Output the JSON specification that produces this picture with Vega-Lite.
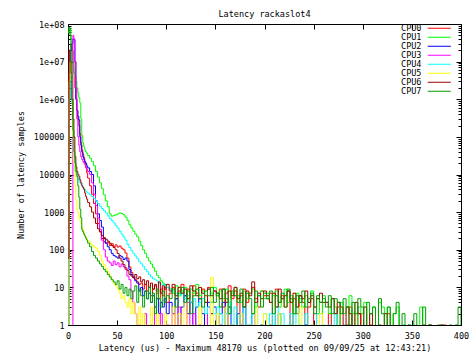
{
"$schema": "https://vega.github.io/schema/vega-lite/v6.json",
"width": 393, "height": 301,
"autosize": {"type": "none"},
"padding": {"left": 68, "top": 24, "right": 13, "bottom": 30},
"background": "white",
"config": {
 "view": {"stroke": "black", "strokeWidth": 1},
 "font": "DejaVu Sans Mono",
 "axis": {"labelFont": "DejaVu Sans Mono", "titleFont": "DejaVu Sans Mono", "labelFontSize": 8.5, "titleFontSize": 8.5, "titleFontWeight": "normal", "labelColor": "black", "titleColor": "black", "tickColor": "black", "tickWidth": 1, "domain": false, "grid": false, "labelOverlap": false, "labelBound": false, "labelFlush": false}
},
"title": {"text": "Latency rackaslot4", "font": "DejaVu Sans Mono", "fontSize": 8.5, "fontWeight": "normal", "color": "black", "anchor": "middle", "offset": 2},
"data": {"values": [
{"x":0,"CPU0":0.5,"CPU1":6e7,"CPU2":0.5,"CPU3":0.5,"CPU4":0.5,"CPU5":0.5,"CPU6":60,"CPU7":8e7},
{"x":1,"CPU0":5e6,"CPU1":8e7,"CPU2":1e6,"CPU3":0.5,"CPU4":1e6,"CPU5":3e6,"CPU6":2e7,"CPU7":8e7},
{"x":2,"CPU0":2e7,"CPU1":7e7,"CPU2":1e7,"CPU3":0.5,"CPU4":1e7,"CPU5":1e7,"CPU6":1e7,"CPU7":5e7},
{"x":3,"CPU0":3e7,"CPU1":4e7,"CPU2":2e7,"CPU3":0.5,"CPU4":6e6,"CPU5":5e6,"CPU6":5e6,"CPU7":1e7},
{"x":4,"CPU0":2e7,"CPU1":2e7,"CPU2":3e7,"CPU3":0.5,"CPU4":8e5,"CPU5":1e6,"CPU6":1e6,"CPU7":1e6},
{"x":5,"CPU0":1e7,"CPU1":1e7,"CPU2":4e7,"CPU3":5e7,"CPU4":1e5,"CPU5":1e5,"CPU6":3e5,"CPU7":1.5e5},
{"x":6,"CPU0":5e6,"CPU1":6e6,"CPU2":3.8e7,"CPU3":4e7,"CPU4":3e4,"CPU5":2e4,"CPU6":1e5,"CPU7":4e4},
{"x":7,"CPU0":2e6,"CPU1":4e6,"CPU2":1e7,"CPU3":1e7,"CPU4":12000,"CPU5":5000,"CPU6":30000,"CPU7":20000},
{"x":8,"CPU0":1e6,"CPU1":3e6,"CPU2":1e6,"CPU3":2e6,"CPU4":10000,"CPU5":2000,"CPU6":16000,"CPU7":12000},
{"x":9,"CPU0":5e5,"CPU1":2e6,"CPU2":5e5,"CPU3":3e5,"CPU4":9000,"CPU5":1200,"CPU6":12000,"CPU7":8700},
{"x":10,"CPU0":3e5,"CPU1":1.5e6,"CPU2":3.5e5,"CPU3":1e5,"CPU4":8000,"CPU5":900,"CPU6":10000,"CPU7":5000},
{"x":11,"CPU0":2e5,"CPU1":1.1e6,"CPU2":2.8e5,"CPU3":6e4,"CPU4":7000,"CPU5":700,"CPU6":9000,"CPU7":2500},
{"x":12,"CPU0":1.2e5,"CPU1":8e5,"CPU2":1e5,"CPU3":4e4,"CPU4":6000,"CPU5":600,"CPU6":7200,"CPU7":1200},
{"x":13,"CPU0":7e4,"CPU1":3e5,"CPU2":6e4,"CPU3":3e4,"CPU4":5500,"CPU5":500,"CPU6":6000,"CPU7":700},
{"x":14,"CPU0":45000,"CPU1":110000,"CPU2":40000,"CPU3":25000,"CPU4":5000,"CPU5":400,"CPU6":5000,"CPU7":340},
{"x":15,"CPU0":35000,"CPU1":70000,"CPU2":30000,"CPU3":22000,"CPU4":4600,"CPU5":330,"CPU6":4500,"CPU7":300},
{"x":16,"CPU0":28000,"CPU1":55000,"CPU2":25000,"CPU3":20000,"CPU4":4200,"CPU5":280,"CPU6":4000,"CPU7":260},
{"x":17,"CPU0":20000,"CPU1":45000,"CPU2":22000,"CPU3":18000,"CPU4":3900,"CPU5":240,"CPU6":3200,"CPU7":230},
{"x":18,"CPU0":15000,"CPU1":40000,"CPU2":20000,"CPU3":16000,"CPU4":3600,"CPU5":210,"CPU6":2600,"CPU7":200},
{"x":19,"CPU0":11000,"CPU1":37000,"CPU2":17000,"CPU3":14000,"CPU4":3400,"CPU5":190,"CPU6":2200,"CPU7":180},
{"x":20,"CPU0":8000,"CPU1":32000,"CPU2":15000,"CPU3":12000,"CPU4":3200,"CPU5":170,"CPU6":1800,"CPU7":150},
{"x":22,"CPU0":5000,"CPU1":27000,"CPU2":12000,"CPU3":10000,"CPU4":2900,"CPU5":150,"CPU6":1380,"CPU7":120},
{"x":24,"CPU0":3000,"CPU1":22000,"CPU2":10000,"CPU3":6000,"CPU4":2600,"CPU5":130,"CPU6":1000,"CPU7":90},
{"x":26,"CPU0":1700,"CPU1":17000,"CPU2":5000,"CPU3":3000,"CPU4":2300,"CPU5":120,"CPU6":700,"CPU7":70},
{"x":28,"CPU0":900,"CPU1":12000,"CPU2":2000,"CPU3":1500,"CPU4":2000,"CPU5":110,"CPU6":500,"CPU7":60},
{"x":30,"CPU0":500,"CPU1":8500,"CPU2":900,"CPU3":700,"CPU4":1700,"CPU5":90,"CPU6":360,"CPU7":50},
{"x":32,"CPU0":300,"CPU1":6000,"CPU2":600,"CPU3":350,"CPU4":1450,"CPU5":70,"CPU6":300,"CPU7":42},
{"x":34,"CPU0":200,"CPU1":4200,"CPU2":400,"CPU3":180,"CPU4":1250,"CPU5":50,"CPU6":240,"CPU7":36},
{"x":36,"CPU0":165,"CPU1":2900,"CPU2":200,"CPU3":100,"CPU4":1100,"CPU5":40,"CPU6":210,"CPU7":30},
{"x":38,"CPU0":150,"CPU1":2000,"CPU2":150,"CPU3":64,"CPU4":950,"CPU5":32,"CPU6":190,"CPU7":26},
{"x":40,"CPU0":160,"CPU1":1400,"CPU2":120,"CPU3":50,"CPU4":800,"CPU5":26,"CPU6":170,"CPU7":22},
{"x":42,"CPU0":130,"CPU1":900,"CPU2":100,"CPU3":45,"CPU4":680,"CPU5":20,"CPU6":150,"CPU7":19},
{"x":44,"CPU0":145,"CPU1":780,"CPU2":80,"CPU3":38,"CPU4":600,"CPU5":16,"CPU6":130,"CPU7":16},
{"x":46,"CPU0":120,"CPU1":820,"CPU2":70,"CPU3":50,"CPU4":520,"CPU5":13,"CPU6":115,"CPU7":14},
{"x":48,"CPU0":135,"CPU1":850,"CPU2":65,"CPU3":40,"CPU4":440,"CPU5":11,"CPU6":100,"CPU7":12},
{"x":50,"CPU0":118,"CPU1":900,"CPU2":60,"CPU3":45,"CPU4":380,"CPU5":9,"CPU6":80,"CPU7":15},
{"x":52,"CPU0":125,"CPU1":950,"CPU2":70,"CPU3":35,"CPU4":310,"CPU5":7,"CPU6":60,"CPU7":9},
{"x":54,"CPU0":110,"CPU1":920,"CPU2":65,"CPU3":42,"CPU4":260,"CPU5":5,"CPU6":50,"CPU7":12},
{"x":56,"CPU0":100,"CPU1":850,"CPU2":55,"CPU3":35,"CPU4":220,"CPU5":6,"CPU6":40,"CPU7":7},
{"x":58,"CPU0":82,"CPU1":740,"CPU2":60,"CPU3":30,"CPU4":180,"CPU5":4,"CPU6":33,"CPU7":10},
{"x":60,"CPU0":60,"CPU1":600,"CPU2":50,"CPU3":20,"CPU4":140,"CPU5":3,"CPU6":28,"CPU7":6},
{"x":62,"CPU0":35,"CPU1":460,"CPU2":30,"CPU3":16,"CPU4":115,"CPU5":5,"CPU6":22,"CPU7":9},
{"x":64,"CPU0":25,"CPU1":380,"CPU2":22,"CPU3":8,"CPU4":95,"CPU5":2,"CPU6":20,"CPU7":5},
{"x":66,"CPU0":19,"CPU1":310,"CPU2":18,"CPU3":4,"CPU4":80,"CPU5":4,"CPU6":18,"CPU7":8},
{"x":68,"CPU0":16,"CPU1":260,"CPU2":15,"CPU3":2,"CPU4":68,"CPU5":2,"CPU6":22,"CPU7":11},
{"x":70,"CPU0":14,"CPU1":220,"CPU2":13,"CPU3":0.5,"CPU4":58,"CPU5":0.5,"CPU6":17,"CPU7":4},
{"x":72,"CPU0":12,"CPU1":170,"CPU2":8,"CPU3":1,"CPU4":48,"CPU5":3,"CPU6":19,"CPU7":9},
{"x":74,"CPU0":13,"CPU1":130,"CPU2":10,"CPU3":0.5,"CPU4":42,"CPU5":0.5,"CPU6":14,"CPU7":6},
{"x":76,"CPU0":9,"CPU1":100,"CPU2":6,"CPU3":0.5,"CPU4":36,"CPU5":2,"CPU6":16,"CPU7":3},
{"x":78,"CPU0":12,"CPU1":80,"CPU2":8,"CPU3":2,"CPU4":30,"CPU5":0.5,"CPU6":12,"CPU7":8},
{"x":80,"CPU0":8,"CPU1":62,"CPU2":5,"CPU3":0.5,"CPU4":26,"CPU5":1,"CPU6":15,"CPU7":5},
{"x":82,"CPU0":10,"CPU1":50,"CPU2":7,"CPU3":0.5,"CPU4":22,"CPU5":0.5,"CPU6":10,"CPU7":10},
{"x":84,"CPU0":6,"CPU1":42,"CPU2":4,"CPU3":1,"CPU4":19,"CPU5":3,"CPU6":13,"CPU7":4},
{"x":86,"CPU0":9,"CPU1":34,"CPU2":6,"CPU3":0.5,"CPU4":17,"CPU5":0.5,"CPU6":9,"CPU7":7},
{"x":88,"CPU0":11,"CPU1":27,"CPU2":3,"CPU3":3,"CPU4":16,"CPU5":0.5,"CPU6":12,"CPU7":2},
{"x":90,"CPU0":7,"CPU1":21,"CPU2":5,"CPU3":0.5,"CPU4":15,"CPU5":2,"CPU6":8,"CPU7":9},
{"x":92,"CPU0":5,"CPU1":18,"CPU2":2,"CPU3":0.5,"CPU4":13,"CPU5":0.5,"CPU6":14,"CPU7":5},
{"x":94,"CPU0":9,"CPU1":15,"CPU2":4,"CPU3":2,"CPU4":12,"CPU5":1,"CPU6":7,"CPU7":3},
{"x":96,"CPU0":6,"CPU1":13,"CPU2":3,"CPU3":0.5,"CPU4":12,"CPU5":0.5,"CPU6":11,"CPU7":8},
{"x":98,"CPU0":10,"CPU1":12,"CPU2":5,"CPU3":0.5,"CPU4":11,"CPU5":2,"CPU6":9,"CPU7":4},
{"x":100,"CPU0":4,"CPU1":10,"CPU2":2,"CPU3":1,"CPU4":10,"CPU5":0.5,"CPU6":12,"CPU7":6},
{"x":103,"CPU0":7,"CPU1":9,"CPU2":4,"CPU3":0.5,"CPU4":9,"CPU5":0.5,"CPU6":8,"CPU7":5},
{"x":106,"CPU0":10,"CPU1":7,"CPU2":2,"CPU3":2,"CPU4":8,"CPU5":3,"CPU6":12,"CPU7":9},
{"x":109,"CPU0":5,"CPU1":11,"CPU2":5,"CPU3":0.5,"CPU4":7,"CPU5":0.5,"CPU6":6,"CPU7":3},
{"x":112,"CPU0":8,"CPU1":6,"CPU2":0.5,"CPU3":3,"CPU4":6,"CPU5":2,"CPU6":10,"CPU7":7},
{"x":115,"CPU0":12,"CPU1":8,"CPU2":3,"CPU3":0.5,"CPU4":7,"CPU5":0.5,"CPU6":7,"CPU7":10},
{"x":118,"CPU0":6,"CPU1":10,"CPU2":6,"CPU3":0.5,"CPU4":5,"CPU5":4,"CPU6":9,"CPU7":4},
{"x":121,"CPU0":9,"CPU1":5,"CPU2":2,"CPU3":4,"CPU4":6,"CPU5":0.5,"CPU6":5,"CPU7":8},
{"x":124,"CPU0":4,"CPU1":9,"CPU2":4,"CPU3":0.5,"CPU4":4,"CPU5":1,"CPU6":11,"CPU7":2},
{"x":127,"CPU0":11,"CPU1":7,"CPU2":0.5,"CPU3":2,"CPU4":5,"CPU5":0.5,"CPU6":8,"CPU7":6},
{"x":130,"CPU0":7,"CPU1":12,"CPU2":3,"CPU3":0.5,"CPU4":3,"CPU5":0.5,"CPU6":6,"CPU7":9},
{"x":133,"CPU0":5,"CPU1":6,"CPU2":5,"CPU3":1,"CPU4":4,"CPU5":3,"CPU6":10,"CPU7":5},
{"x":136,"CPU0":9,"CPU1":8,"CPU2":2,"CPU3":0.5,"CPU4":5,"CPU5":0.5,"CPU6":7,"CPU7":3},
{"x":139,"CPU0":6,"CPU1":4,"CPU2":0.5,"CPU3":0.5,"CPU4":2,"CPU5":0.5,"CPU6":4,"CPU7":8},
{"x":142,"CPU0":10,"CPU1":9,"CPU2":4,"CPU3":3,"CPU4":3,"CPU5":0.5,"CPU6":9,"CPU7":6},
{"x":145,"CPU0":4,"CPU1":7,"CPU2":2,"CPU3":0.5,"CPU4":4,"CPU5":18,"CPU6":6,"CPU7":10},
{"x":148,"CPU0":8,"CPU1":10,"CPU2":3,"CPU3":0.5,"CPU4":2,"CPU5":0.5,"CPU6":8,"CPU7":4},
{"x":151,"CPU0":6,"CPU1":6,"CPU2":0.5,"CPU3":0.5,"CPU4":3,"CPU5":2,"CPU6":7,"CPU7":7},
{"x":154,"CPU0":9,"CPU1":8,"CPU2":2,"CPU3":1,"CPU4":2,"CPU5":0.5,"CPU6":5,"CPU7":3},
{"x":157,"CPU0":3,"CPU1":5,"CPU2":4,"CPU3":0.5,"CPU4":0.5,"CPU5":0.5,"CPU6":9,"CPU7":9},
{"x":160,"CPU0":7,"CPU1":9,"CPU2":0.5,"CPU3":0.5,"CPU4":2,"CPU5":3,"CPU6":4,"CPU7":5},
{"x":163,"CPU0":11,"CPU1":3,"CPU2":3,"CPU3":2,"CPU4":4,"CPU5":0.5,"CPU6":8,"CPU7":2},
{"x":166,"CPU0":5,"CPU1":7,"CPU2":1,"CPU3":0.5,"CPU4":1,"CPU5":1,"CPU6":6,"CPU7":8},
{"x":169,"CPU0":8,"CPU1":10,"CPU2":0.5,"CPU3":0.5,"CPU4":3,"CPU5":0.5,"CPU6":10,"CPU7":6},
{"x":172,"CPU0":0.5,"CPU1":6,"CPU2":2,"CPU3":0.5,"CPU4":0.5,"CPU5":0.5,"CPU6":5,"CPU7":4},
{"x":175,"CPU0":6,"CPU1":4,"CPU2":0.5,"CPU3":1,"CPU4":2,"CPU5":2,"CPU6":7,"CPU7":9},
{"x":178,"CPU0":9,"CPU1":8,"CPU2":3,"CPU3":0.5,"CPU4":3,"CPU5":0.5,"CPU6":3,"CPU7":3},
{"x":181,"CPU0":4,"CPU1":5,"CPU2":0.5,"CPU4":1,"CPU5":0.5,"CPU6":8,"CPU7":7},
{"x":184,"CPU0":7,"CPU1":7,"CPU2":1,"CPU4":0.5,"CPU5":1,"CPU6":6,"CPU7":5},
{"x":187,"CPU0":10,"CPU1":9,"CPU2":2,"CPU4":2,"CPU5":0.5,"CPU6":14,"CPU7":2},
{"x":190,"CPU0":5,"CPU1":3,"CPU2":0.5,"CPU4":3,"CPU5":3,"CPU6":4,"CPU7":8},
{"x":193,"CPU0":3,"CPU1":6,"CPU2":0.5,"CPU4":0.5,"CPU5":0.5,"CPU6":7,"CPU7":6},
{"x":196,"CPU0":8,"CPU1":8,"CPU2":1,"CPU4":1,"CPU5":0.5,"CPU6":5,"CPU7":3},
{"x":199,"CPU0":6,"CPU1":5,"CPU2":0.5,"CPU4":2,"CPU5":2,"CPU6":8,"CPU7":7},
{"x":202,"CPU0":5,"CPU1":7,"CPU2":0.5,"CPU4":0.5,"CPU5":0.5,"CPU6":6,"CPU7":5},
{"x":205,"CPU0":7,"CPU1":4,"CPU2":1,"CPU4":2,"CPU5":1,"CPU6":4,"CPU7":8},
{"x":208,"CPU0":0.5,"CPU1":6,"CPU2":0.5,"CPU4":1,"CPU5":0.5,"CPU6":7,"CPU7":2},
{"x":211,"CPU0":9,"CPU1":8,"CPU2":0.5,"CPU4":3,"CPU5":0.5,"CPU6":3,"CPU7":6},
{"x":214,"CPU0":4,"CPU1":3,"CPU2":2,"CPU4":0.5,"CPU5":2,"CPU6":9,"CPU7":4},
{"x":217,"CPU0":6,"CPU1":5,"CPU2":0.5,"CPU4":2,"CPU5":0.5,"CPU6":5,"CPU7":7},
{"x":220,"CPU0":3,"CPU1":9,"CPU2":0.5,"CPU4":0.5,"CPU5":0.5,"CPU6":6,"CPU7":3},
{"x":223,"CPU0":8,"CPU1":4,"CPU2":0.5,"CPU4":1,"CPU5":0.5,"CPU6":8,"CPU7":9},
{"x":226,"CPU0":0.5,"CPU1":6,"CPU2":1,"CPU4":2,"CPU5":1,"CPU6":4,"CPU7":5},
{"x":229,"CPU0":5,"CPU1":2,"CPU2":0.5,"CPU4":0.5,"CPU5":0.5,"CPU6":7,"CPU7":2},
{"x":232,"CPU0":2,"CPU1":7,"CPU2":0.5,"CPU4":3,"CPU5":0.5,"CPU6":3,"CPU7":6},
{"x":235,"CPU0":6,"CPU1":5,"CPU2":0.5,"CPU4":1,"CPU5":3,"CPU6":6,"CPU7":4},
{"x":238,"CPU0":4,"CPU1":3,"CPU2":0.5,"CPU4":0.5,"CPU5":0.5,"CPU6":5,"CPU7":8},
{"x":241,"CPU0":0.5,"CPU1":6,"CPU2":1,"CPU4":2,"CPU5":0.5,"CPU6":8,"CPU7":3},
{"x":244,"CPU0":3,"CPU1":4,"CPU2":0.5,"CPU4":0.5,"CPU5":0.5,"CPU6":4,"CPU7":5},
{"x":247,"CPU0":5,"CPU1":8,"CPU2":0.5,"CPU4":1,"CPU5":1,"CPU6":6,"CPU7":7},
{"x":250,"CPU0":0.5,"CPU1":3,"CPU2":0.5,"CPU4":0.5,"CPU5":0.5,"CPU6":3,"CPU7":2},
{"x":253,"CPU0":2,"CPU1":5,"CPU2":0.5,"CPU4":2,"CPU5":0.5,"CPU6":5,"CPU7":6},
{"x":256,"CPU0":4,"CPU1":2,"CPU4":0.5,"CPU5":2,"CPU6":7,"CPU7":4},
{"x":259,"CPU0":0.5,"CPU1":6,"CPU4":1,"CPU5":0.5,"CPU6":4,"CPU7":5},
{"x":262,"CPU0":0.5,"CPU1":4,"CPU4":0.5,"CPU6":4,"CPU7":3},
{"x":265,"CPU0":2,"CPU1":2,"CPU4":1,"CPU6":3,"CPU7":6},
{"x":268,"CPU0":0.5,"CPU1":5,"CPU4":0.5,"CPU6":5,"CPU7":2},
{"x":271,"CPU0":0.5,"CPU1":3,"CPU4":2,"CPU6":2,"CPU7":5},
{"x":274,"CPU0":3,"CPU1":0.5,"CPU4":0.5,"CPU6":4,"CPU7":4},
{"x":277,"CPU0":0.5,"CPU1":4,"CPU4":0.5,"CPU6":3,"CPU7":2},
{"x":280,"CPU0":0.5,"CPU1":2,"CPU4":1,"CPU6":0.5,"CPU7":5},
{"x":283,"CPU0":1,"CPU1":3,"CPU4":0.5,"CPU6":3,"CPU7":3},
{"x":286,"CPU0":3,"CPU1":6,"CPU4":0.5,"CPU6":2,"CPU7":1},
{"x":289,"CPU0":0.5,"CPU1":2,"CPU4":0.5,"CPU6":0.5,"CPU7":4},
{"x":292,"CPU0":0.5,"CPU1":0.5,"CPU6":4,"CPU7":2},
{"x":295,"CPU0":2,"CPU1":3,"CPU6":2,"CPU7":5},
{"x":298,"CPU0":0.5,"CPU1":2,"CPU6":0.5,"CPU7":3},
{"x":301,"CPU0":0.5,"CPU1":4,"CPU6":3,"CPU7":0.5},
{"x":304,"CPU0":0.5,"CPU1":0.5,"CPU6":0.5,"CPU7":4},
{"x":307,"CPU0":1,"CPU1":2,"CPU6":2,"CPU7":2},
{"x":310,"CPU0":0.5,"CPU1":3,"CPU6":0.5,"CPU7":3},
{"x":313,"CPU0":0.5,"CPU1":0.5,"CPU6":0.5,"CPU7":0.5},
{"x":316,"CPU0":0.5,"CPU1":4,"CPU6":1,"CPU7":5},
{"x":319,"CPU0":0.5,"CPU1":3,"CPU6":0.5,"CPU7":2},
{"x":322,"CPU0":0.5,"CPU1":0.5,"CPU6":2,"CPU7":0.5},
{"x":325,"CPU0":2,"CPU1":3,"CPU6":0.5,"CPU7":3},
{"x":328,"CPU0":0.5,"CPU1":0.5,"CPU6":0.5,"CPU7":0.5},
{"x":331,"CPU0":0.5,"CPU1":2,"CPU6":0.5,"CPU7":2},
{"x":334,"CPU0":0.5,"CPU1":3,"CPU6":0.5,"CPU7":4},
{"x":337,"CPU0":0.5,"CPU1":0.5,"CPU6":0.5,"CPU7":0.5},
{"x":340,"CPU0":0.5,"CPU1":1,"CPU6":0.5,"CPU7":2},
{"x":343,"CPU0":0.5,"CPU1":0.5,"CPU6":0.5,"CPU7":0.5},
{"x":346,"CPU0":0.5,"CPU1":1,"CPU6":0.5,"CPU7":1},
{"x":349,"CPU0":0.5,"CPU1":0.5,"CPU6":0.5,"CPU7":0.5},
{"x":352,"CPU0":0.5,"CPU1":0.5,"CPU6":0.5,"CPU7":2},
{"x":355,"CPU0":0.5,"CPU1":0.5,"CPU6":0.5,"CPU7":0.5},
{"x":358,"CPU0":0.5,"CPU1":3,"CPU6":0.5,"CPU7":0.5},
{"x":361,"CPU0":0.5,"CPU1":0.5,"CPU6":1,"CPU7":3},
{"x":364,"CPU0":0.5,"CPU1":0.5,"CPU6":0.5,"CPU7":0.5},
{"x":367,"CPU0":0.5,"CPU1":1,"CPU6":1,"CPU7":1},
{"x":370,"CPU0":0.5,"CPU1":0.5,"CPU6":0.5,"CPU7":0.5},
{"x":373,"CPU0":0.5,"CPU1":0.5,"CPU6":0.5,"CPU7":0.5},
{"x":376,"CPU0":0.5,"CPU1":0.5,"CPU6":0.5,"CPU7":1},
{"x":379,"CPU0":1,"CPU1":0.5,"CPU6":0.5,"CPU7":1},
{"x":382,"CPU0":1,"CPU1":0.5,"CPU6":0.5,"CPU7":0.5},
{"x":385,"CPU0":0.5,"CPU1":0.5,"CPU6":0.5,"CPU7":0.5},
{"x":388,"CPU0":0.5,"CPU1":0.5,"CPU6":0.5,"CPU7":1},
{"x":391,"CPU0":0.5,"CPU1":0.5,"CPU6":0.5,"CPU7":0.5},
{"x":394,"CPU0":0.5,"CPU1":0.5,"CPU6":0.5,"CPU7":1},
{"x":397,"CPU0":0.5,"CPU1":0.5,"CPU6":0.5,"CPU7":3},
{"x":400,"CPU0":0.5,"CPU1":1,"CPU6":0.5,"CPU7":0.5}
]},
"transform": [{"fold": ["CPU0","CPU1","CPU2","CPU3","CPU4","CPU5","CPU6","CPU7"], "as": ["cpu","n"]}],
"layer": [
 {"mark": {"type": "line", "interpolate": "step-after", "strokeWidth": 1, "clip": true},
  "encoding": {
   "x": {"field": "x", "type": "quantitative", "scale": {"domain": [0,400], "nice": false, "zero": false},
    "axis": {"values": [0,50,100,150,200,250,300,350,400], "tickSize": -5, "labelPadding": 11, "title": "Latency (us) - Maximum 48170 us (plotted on 09/09/25 at 12:43:21)", "titlePadding": 4}},
   "y": {"field": "n", "type": "quantitative", "scale": {"type": "log", "domain": [1,100000000], "nice": false},
    "axis": {"values": [1,2,3,4,5,6,7,8,9,10,20,30,40,50,60,70,80,90,100,200,300,400,500,600,700,800,900,1000,2000,3000,4000,5000,6000,7000,8000,9000,10000,20000,30000,40000,50000,60000,70000,80000,90000,100000,200000,300000,400000,500000,600000,700000,800000,900000,1000000,2000000,3000000,4000000,5000000,6000000,7000000,8000000,9000000,10000000,20000000,30000000,40000000,50000000,60000000,70000000,80000000,90000000,100000000],
     "tickSize": {"condition": {"test": "abs(log(datum.value)/LN10 - round(log(datum.value)/LN10)) < 0.0001", "value": -5}, "value": -3},
     "labelPadding": 9,
     "labelExpr": "abs(log(datum.value)/LN10 - round(log(datum.value)/LN10)) < 0.0001 ? (datum.value >= 1000000 ? '1e+0' + round(log(datum.value)/LN10) : format(datum.value, 'd')) : ''",
     "title": "Number of latency samples", "titlePadding": 8}},
   "color": {"field": "cpu", "type": "nominal",
    "scale": {"domain": ["CPU0","CPU1","CPU2","CPU3","CPU4","CPU5","CPU6","CPU7"], "range": ["#ff0000","#00ff00","#0000ff","#ff00ff","#00ffff","#ffff00","#a00000","#00a000"]},
    "legend": {"orient": "none", "legendX": 367, "legendY": 0, "title": null, "symbolType": "M-3.3,0H3.3", "symbolSize": 49, "symbolStrokeWidth": 1, "symbolOpacity": 1, "symbolOffset": 0, "labelAlign": "right", "labelOffset": -22, "labelFont": "DejaVu Sans Mono", "labelFontSize": 8.5, "labelColor": "black", "rowPadding": 0, "padding": 0}}
  }},
 {"mark": {"type": "line", "interpolate": "step-after", "opacity": 0, "clip": true},
  "encoding": {
   "x": {"field": "x", "type": "quantitative", "scale": {"domain": [0,400], "nice": false, "zero": false},
    "axis": {"orient": "top", "values": [0,50,100,150,200,250,300,350,400], "tickSize": -5, "labels": false, "title": null}},
   "y": {"field": "n", "type": "quantitative", "scale": {"type": "log", "domain": [1,100000000], "nice": false},
    "axis": {"orient": "right", "values": [1,2,3,4,5,6,7,8,9,10,20,30,40,50,60,70,80,90,100,200,300,400,500,600,700,800,900,1000,2000,3000,4000,5000,6000,7000,8000,9000,10000,20000,30000,40000,50000,60000,70000,80000,90000,100000,200000,300000,400000,500000,600000,700000,800000,900000,1000000,2000000,3000000,4000000,5000000,6000000,7000000,8000000,9000000,10000000,20000000,30000000,40000000,50000000,60000000,70000000,80000000,90000000,100000000],
     "tickSize": {"condition": {"test": "abs(log(datum.value)/LN10 - round(log(datum.value)/LN10)) < 0.0001", "value": -5}, "value": -3},
     "labels": false, "title": null}},
   "detail": {"field": "cpu"}
  }}
],
"resolve": {"axis": {"x": "independent", "y": "independent"}}
}
